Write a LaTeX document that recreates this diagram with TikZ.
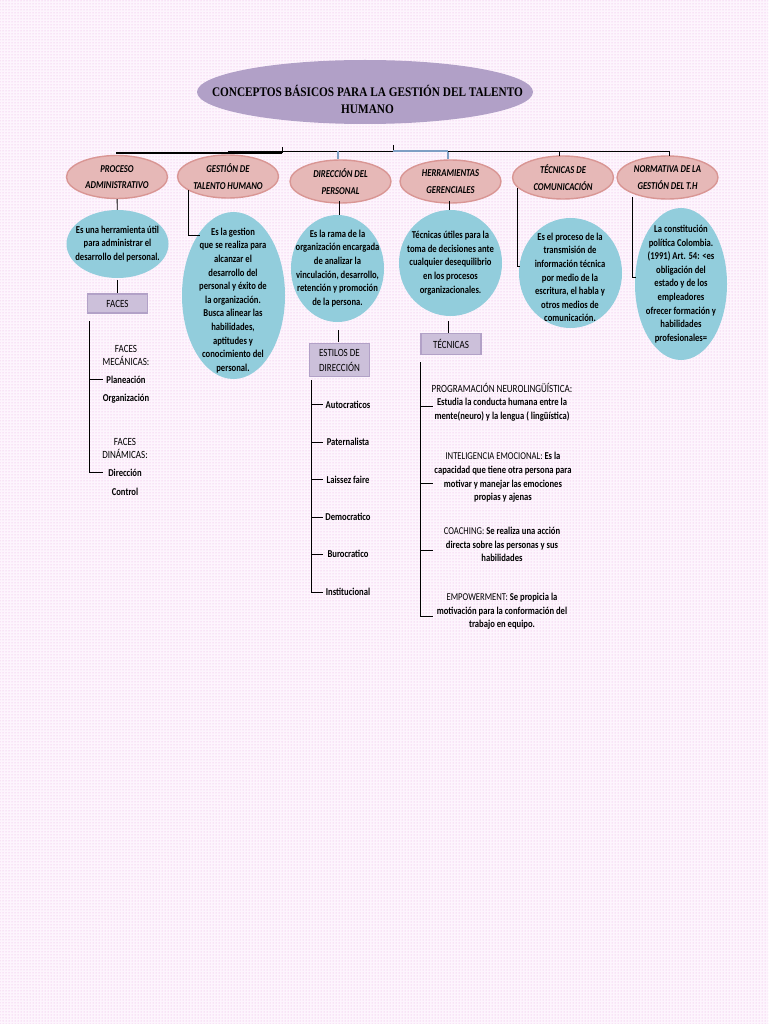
\documentclass[tikz,border=0pt]{standalone}
\usepackage{fontspec}
\setmainfont[FakeStretch=0.82]{Carlito}
\newfontfamily\titlefont[FakeStretch=0.86]{Liberation Serif}
\usetikzlibrary{shapes.geometric,patterns}
\definecolor{pagepink}{HTML}{FDF5FD}
\definecolor{dotpink}{HTML}{E9A9E2}
\definecolor{titlefill}{HTML}{B1A0C7}
\definecolor{rosefill}{HTML}{E6B8B7}
\definecolor{rosedraw}{HTML}{D99694}
\definecolor{bluefill}{HTML}{92CDDC}
\definecolor{boxfill}{HTML}{CCC0DA}
\definecolor{boxdraw}{HTML}{B2A1C7}
\definecolor{linkblue}{HTML}{7F9FC4}
\tikzset{
  titleoval/.style={ellipse,fill=titlefill,inner sep=0pt,minimum width=336pt,minimum height=64pt},
  titletext/.style={inner sep=0pt,font=\titlefont\bfseries\fontsize{13.1}{17}\selectfont,align=center,text=black},
  roseoval/.style={ellipse,fill=rosefill,draw=rosedraw,line width=1.4pt,inner sep=-15pt,minimum width=101pt,minimum height=43pt,font=\bfseries\itshape\fontsize{10.5}{16.5}\selectfont,align=center},
  blueoval/.style={ellipse,fill=bluefill,inner sep=-25pt,font=\bfseries\fontsize{10.5}{13.6}\selectfont,align=center},
  labelbox/.style={rectangle,fill=boxfill,draw=boxdraw,line width=1.4pt,inner sep=0pt,font=\fontsize{11}{15}\selectfont,align=center},
  itemtext/.style={inner sep=0pt,font=\bfseries\fontsize{10.5}{13.6}\selectfont,align=center},
  capstext/.style={inner sep=0pt,font=\fontsize{11}{13.6}\selectfont,align=center},
  linkline/.style={line width=0.9pt,black},
}
\begin{document}
\begin{tikzpicture}[x=1pt,y=-1pt,line cap=butt,line join=miter]
\fill [pagepink] (0,0) rectangle (768,1024);
\fill [pattern=dots,pattern color=dotpink] (0,0) rectangle (768,1024);
\useasboundingbox (0,0) rectangle (768,1024);
\node [titleoval] (title) at (365,92) {};
\node [titletext] (titlewords) at (367.5,99.5) {CONCEPTOS BÁSICOS PARA LA GESTIÓN DEL TALENTO\\HUMANO};
\node [roseoval] (proceso) at (117,177) {PROCESO\\ADMINISTRATIVO};
\node [roseoval] (gestion) at (228,176.5) {GESTIÓN DE\\TALENTO HUMANO};
\node [roseoval] (direccion) at (340.5,181.5) {DIRECCIÓN DEL\\PERSONAL};
\node [roseoval] (herramientas) at (450.5,181.5) {HERRAMIENTAS\\GERENCIALES};
\node [roseoval] (tecnicas) at (563,177.5) {TÉCNICAS DE\\COMUNICACIÓN};
\node [roseoval] (normativa) at (667.5,177.5) {NORMATIVA DE LA\\GESTIÓN DEL T.H};
\node [blueoval,minimum width=102pt,minimum height=68pt] (procesodef) at (117.5,244) {Es una herramienta útil\\para administrar el\\desarrollo del personal.};
\node [blueoval,minimum width=103pt,minimum height=167pt] (gestiondef) at (233.5,295.5) {};
\node [itemtext] (gestiontext) at (233,300.5) {Es la gestion\\que se realiza para\\alcanzar el\\desarrollo del\\personal y éxito de\\la organización.\\Busca alinear las\\habilidades,\\aptitudes y\\conocimiento del\\personal.};
\node [blueoval,minimum width=93pt,minimum height=107pt] (direcciondef) at (337.5,268.5) {Es la rama de la\\organización encargada\\de analizar la\\vinculación, desarrollo,\\retención y promoción\\de la persona.};
\node [blueoval,minimum width=103pt,minimum height=106pt] (herramientasdef) at (450.5,263) {Técnicas útiles para la\\toma de decisiones ante\\cualquier desequilibrio\\en los procesos\\organizacionales.};
\node [blueoval,minimum width=103pt,minimum height=110pt] (tecnicasdef) at (570.5,273) {};
\node [itemtext] (tecnicastext) at (570,277.5) {Es el proceso de la\\transmisión de\\información técnica\\por medio de la\\escritura, el habla y\\otros medios de\\comunicación.};
\node [blueoval,minimum width=92pt,minimum height=152pt] (normativadef) at (681,284) {La constitución\\política Colombia.\\(1991) Art. 54: <es\\obligación del\\estado y de los\\empleadores\\ofrecer formación y\\habilidades\\profesionales=};
\node [labelbox,minimum width=60pt,minimum height=19pt] (faces) at (117.5,303.5) {FACES};
\node [labelbox,minimum width=60pt,minimum height=33pt,align=left] (estilos) at (339.5,360) {ESTILOS DE\\DIRECCIÓN};
\node [labelbox,minimum width=60pt,minimum height=21pt] (tecnicasbox) at (451,344) {TÉCNICAS};
\node [capstext] (mecanicas) at (126,355.5) {FACES\\MECÁNICAS:};
\node [itemtext] (planeacion) at (126,380) {Planeación};
\node [itemtext] (organizacion) at (126,399) {Organización};
\node [capstext] (dinamicas) at (125,448.5) {FACES\\DINÁMICAS:};
\node [itemtext] (dir) at (125,473) {Dirección};
\node [itemtext] (control) at (125,492) {Control};
\node [itemtext] (autocraticos) at (348,404.5) {Autocraticos};
\node [itemtext] (paternalista) at (348,442) {Paternalista};
\node [itemtext] (laissez) at (348,480) {Laissez faire};
\node [itemtext] (democratico) at (348,517) {Democratico};
\node [itemtext] (burocratico) at (348,554) {Burocratico};
\node [itemtext] (institucional) at (348,592) {Institucional};
\node [itemtext] (programacion) at (502,402) {\fontsize{11}{13.6}\selectfont\mdseries PROGRAMACIÓN NEUROLINGÜÍSTICA:\\Estudia la conducta humana entre la\\mente(neuro) y la lengua ( lingüística)};
\node [itemtext] (inteligencia) at (503,477.5) {\mdseries INTELIGENCIA EMOCIONAL: \bfseries Es la\\capacidad que tiene otra persona para\\motivar y manejar las emociones\\propias y ajenas};
\node [itemtext] (coaching) at (502,544.5) {\mdseries COACHING: \bfseries Se realiza una acción\\directa sobre las personas y sus\\habilidades};
\node [itemtext] (empowerment) at (502,611.5) {\mdseries EMPOWERMENT: \bfseries Se propicia la\\motivación para la conformación del\\trabajo en equipo.};
\coordinate (tickleft) at (282,147);
\coordinate (bendleft) at (282,153);
\coordinate (barleft) at (116,153);
\coordinate (tickright) at (393,145);
\coordinate (bendright) at (393,151);
\coordinate (bargestion) at (228,151);
\coordinate (barherr) at (448,151);
\coordinate (bardir) at (338,151);
\coordinate (bartec) at (559,151);
\coordinate (barnorm) at (669,151);
\coordinate (gestiontop) at (228,154);
\coordinate (tectop) at (559,156);
\coordinate (normtop) at (669,156);
\draw [linkline,line width=1.6pt] (bendleft) -- (barleft);
\draw [linkline] (tickleft) -- (bendleft);
\draw [linkline] (gestiontop) -- (bargestion) -- (bendright) -- (tickright);
\draw [line width=1.1pt,linkblue] (bendright) -- (barherr);
\draw [line width=1.1pt,linkblue] (bardir) -- (bardir |- direccion.north);
\draw [line width=1.1pt,linkblue] (barherr) -- (barherr |- herramientas.north);
\draw [linkline] (barherr) -- (barnorm) -- (normtop);
\draw [linkline] (bartec) -- (tectop);
\draw [linkline] (proceso) -- (procesodef);
\coordinate (gapa) at (117.5,280);
\draw [linkline] (gapa) -- (faces.north -| gapa);
\coordinate (gestionstart) at (188,190);
\coordinate (gestionbend) at (188,235);
\coordinate (gestionend) at (200,235);
\draw [linkline] (gestionstart) -- (gestionbend) -- (gestionend);
\coordinate (dirtop) at (339,201);
\draw [linkline] (dirtop) -- (dirtop |- direcciondef.north);
\coordinate (gapb) at (338,330);
\coordinate (gapbend) at (338,342);
\draw [linkline] (gapb) -- (gapbend);
\coordinate (herrtop) at (449,201);
\draw [linkline] (herrtop) -- (herrtop |- herramientasdef.north);
\coordinate (gapc) at (448,321);
\draw [linkline] (gapc) -- (tecnicasbox.north -| gapc);
\coordinate (tecstart) at (517,188);
\coordinate (tecbend) at (517,266);
\coordinate (tecend) at (519.5,266);
\draw [linkline] (tecstart) -- (tecbend) -- (tecend);
\coordinate (normstart) at (632,197);
\coordinate (normbend) at (632,277);
\coordinate (normend) at (636,277);
\draw [linkline] (normstart) -- (normbend) -- (normend);
\coordinate (facestop) at (89,321);
\coordinate (facesbottom) at (89,472);
\draw [linkline] (facestop) -- (facesbottom) -- (103,472);
\draw [linkline] (89,379) -- (103,379);
\coordinate (estilostop) at (311,380);
\coordinate (estilosbottom) at (311,592);
\draw [linkline] (estilostop) -- (estilosbottom) -- (323,592);
\draw [linkline] (311,404.5) -- (323,404.5);
\draw [linkline] (311,442) -- (323,442);
\draw [linkline] (311,479) -- (323,479);
\draw [linkline] (311,517) -- (323,517);
\draw [linkline] (311,554) -- (323,554);
\coordinate (tecnicastop) at (420,362);
\coordinate (tecnicasbottom) at (420,616);
\draw [linkline] (tecnicastop) -- (tecnicasbottom) -- (433,616);
\draw [linkline] (420,406) -- (433,406);
\draw [linkline] (420,483) -- (433,483);
\draw [linkline] (420,550) -- (433,550);
\end{tikzpicture}
\end{document}
